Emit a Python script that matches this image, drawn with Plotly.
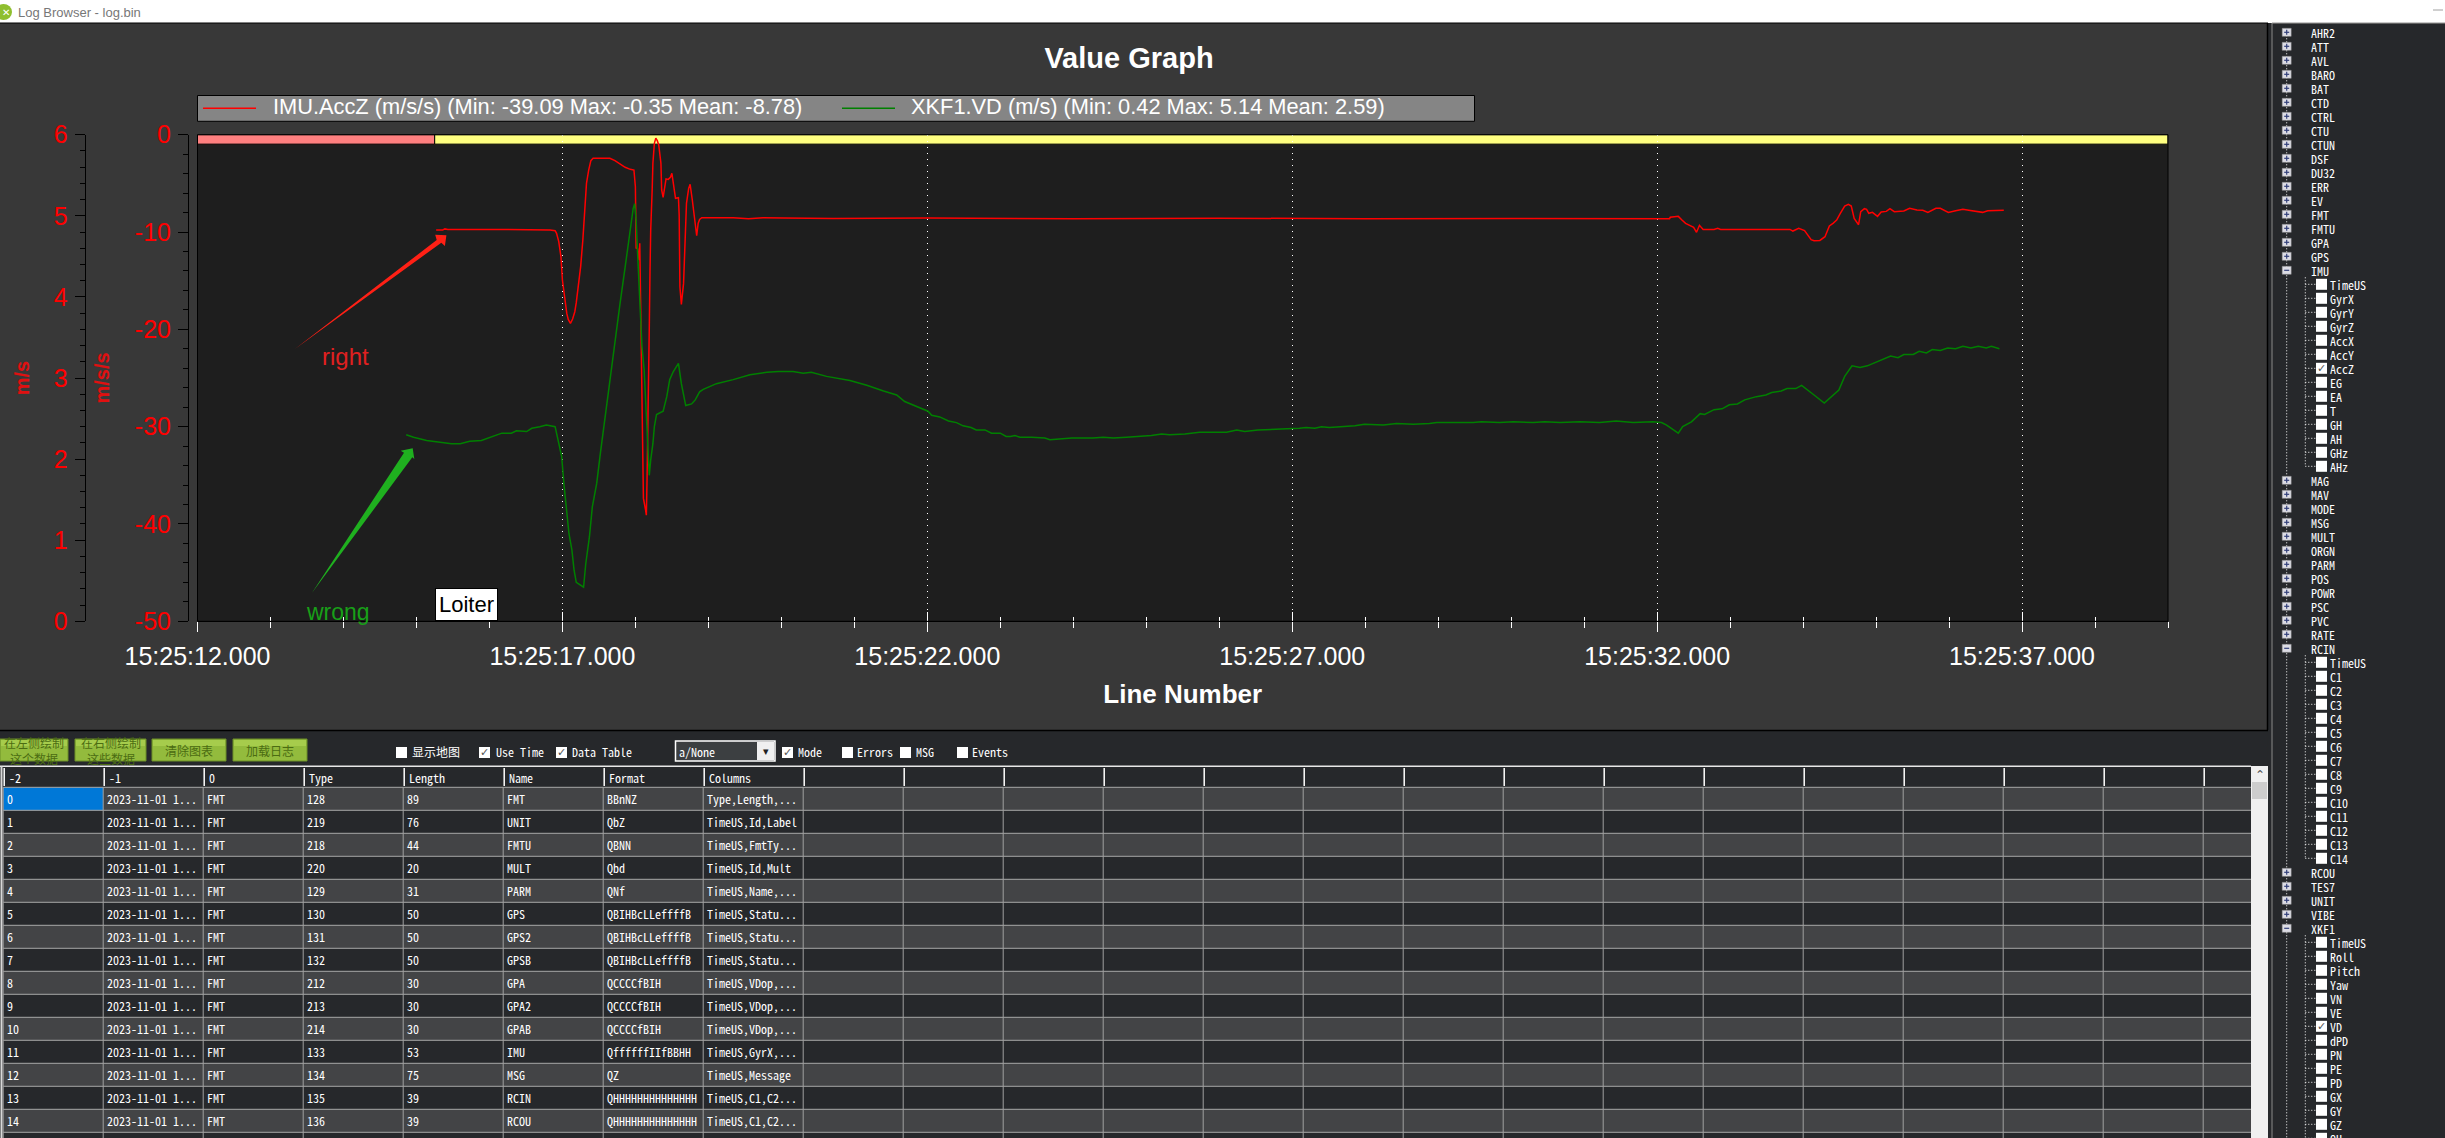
import plotly.graph_objects as go

# ---------- chart data ----------
acc_t = [15.27,15.33,15.36,15.39,15.43,16.14,16.58,16.59,16.61,16.81,16.83,16.90,16.92,16.95,16.98,17.00,17.03,17.06,17.08,17.11,17.14,17.17,17.19,17.22,17.25,17.28,17.30,17.33,17.36,17.39,17.42,17.65,17.72,17.79,17.86,17.93,17.98,18.00,18.01,18.03,18.04,18.05,18.06,18.07,18.09,18.10,18.11,18.14,18.15,18.16,18.17,18.19,18.20,18.21,18.23,18.24,18.26,18.28,18.30,18.32,18.35,18.36,18.38,18.40,18.42,18.45,18.48,18.50,18.52,18.55,18.59,18.60,18.61,18.63,18.66,18.68,18.70,18.73,18.75,18.78,18.81,18.84,18.86,18.88,18.91,19.07,19.13,19.34,19.55,19.75,20.03,20.35,20.71,22,24,26,28,30,31.21,32.17,32.18,32.29,32.34,32.39,32.50,32.54,32.58,32.63,32.78,32.83,32.87,33.82,33.86,33.94,34.02,34.07,34.11,34.15,34.23,34.30,34.36,34.41,34.46,34.51,34.57,34.62,34.66,34.70,34.76,34.79,34.84,34.87,34.90,34.95,35.02,35.07,35.14,35.19,35.25,35.38,35.46,35.56,35.64,35.71,35.82,35.88,35.99,36.09,36.19,36.27,36.37,36.46,36.53,36.75]
acc_v = [-9.78,-9.74,-9.78,-9.68,-9.75,-9.73,-9.73,-9.79,-9.73,-9.73,-9.79,-9.86,-10.14,-10.99,-12.54,-14.93,-16.99,-18.36,-18.98,-19.39,-18.94,-18.19,-17.26,-15.62,-13.56,-10.82,-8.08,-5.0,-3.63,-2.67,-2.43,-2.43,-2.67,-3.01,-3.35,-3.56,-3.63,-5.34,-11.64,-11.71,-12.88,-12.88,-11.16,-15.62,-24.18,-32.75,-37.37,-38.57,-39.09,-35.32,-27.61,-20.07,-14.08,-9.8,-5.68,-2.94,-0.89,-0.35,-0.61,-1.06,-2.94,-5.68,-6.44,-5.34,-4.55,-4.59,-4.38,-3.97,-5.17,-6.54,-6.47,-8.25,-15.62,-17.43,-15.28,-10.99,-7.05,-5.51,-5.1,-6.71,-8.77,-10.38,-9.11,-8.7,-8.53,-8.53,-8.6,-8.53,-8.63,-8.53,-8.56,-8.6,-8.6,-8.55,-8.63,-8.58,-8.63,-8.6,-8.63,-8.63,-8.49,-8.39,-8.77,-9.11,-9.52,-10.03,-9.31,-9.73,-9.73,-9.62,-9.73,-9.73,-9.9,-9.62,-9.86,-10.31,-10.79,-10.89,-10.86,-10.48,-9.38,-9.11,-8.77,-8.08,-7.33,-7.16,-7.33,-8.6,-9.25,-7.91,-7.6,-7.67,-8.08,-7.98,-8.39,-7.94,-7.88,-7.6,-7.91,-7.84,-7.57,-7.74,-7.77,-7.98,-7.57,-7.57,-7.98,-7.81,-7.67,-7.77,-7.84,-7.98,-7.81,-7.77]
vel_t = [14.86,14.96,15.14,15.28,15.41,15.48,15.60,15.73,15.89,15.98,16.17,16.30,16.37,16.51,16.58,16.69,16.78,16.90,16.94,16.99,17.02,17.06,17.09,17.13,17.16,17.19,17.29,17.32,17.37,17.41,17.47,17.52,17.58,17.65,17.72,17.79,17.86,17.93,17.97,17.99,18.01,18.03,18.05,18.07,18.09,18.12,18.14,18.16,18.18,18.19,18.21,18.24,18.26,18.29,18.38,18.43,18.47,18.52,18.59,18.63,18.69,18.77,18.82,18.88,18.93,19.11,19.34,19.57,19.80,19.96,20.16,20.30,20.41,20.62,20.94,21.17,21.40,21.44,21.58,21.69,21.79,21.92,22.01,22.06,22.17,22.29,22.40,22.49,22.60,22.67,22.79,22.88,23.00,23.08,23.14,23.20,23.27,23.43,23.54,23.61,23.68,23.84,23.98,24.13,24.27,24.41,24.55,24.73,24.91,25.07,25.21,25.32,25.53,25.73,25.94,26.10,26.24,26.35,26.53,26.71,26.85,27.10,27.19,27.31,27.40,27.51,27.72,27.86,27.99,28.25,28.43,28.66,28.88,28.98,29.25,29.48,29.59,29.84,30.03,30.30,30.46,30.67,30.94,31.21,31.44,31.67,31.94,32.06,32.13,32.29,32.35,32.47,32.59,32.65,32.78,32.89,32.99,33.10,33.20,33.36,33.49,33.57,33.70,33.78,33.90,33.98,34.15,34.29,34.49,34.57,34.67,34.78,34.88,35.01,35.20,35.30,35.38,35.51,35.59,35.69,35.77,35.88,35.98,36.09,36.19,36.30,36.40,36.51,36.58,36.69]
vel_v = [2.3,2.27,2.23,2.21,2.2,2.19,2.19,2.22,2.23,2.26,2.32,2.32,2.35,2.34,2.38,2.4,2.42,2.4,2.24,2.03,1.7,1.37,1.08,0.88,0.63,0.48,0.42,0.71,1.04,1.41,1.7,2.07,2.48,3.02,3.43,3.92,4.37,4.82,5.09,5.15,4.95,4.54,4.17,3.76,3.39,3.1,2.69,2.24,1.95,1.8,1.99,2.19,2.4,2.55,2.59,2.77,2.98,3.08,3.18,2.93,2.66,2.68,2.73,2.83,2.86,2.93,2.98,3.04,3.07,3.08,3.08,3.06,3.07,3.02,2.97,2.91,2.84,2.83,2.79,2.71,2.67,2.62,2.59,2.54,2.52,2.47,2.45,2.41,2.39,2.36,2.36,2.32,2.32,2.28,2.28,2.29,2.27,2.27,2.26,2.26,2.24,2.25,2.26,2.26,2.26,2.27,2.26,2.27,2.28,2.29,2.31,2.3,2.31,2.33,2.33,2.33,2.36,2.34,2.36,2.37,2.37,2.38,2.39,2.38,2.4,2.39,2.4,2.41,2.43,2.42,2.44,2.43,2.44,2.45,2.45,2.45,2.46,2.45,2.46,2.45,2.46,2.45,2.46,2.45,2.47,2.45,2.46,2.45,2.42,2.32,2.4,2.46,2.56,2.55,2.61,2.62,2.67,2.68,2.73,2.77,2.79,2.82,2.84,2.87,2.87,2.91,2.79,2.69,2.85,3.02,3.15,3.13,3.15,3.2,3.27,3.25,3.29,3.29,3.33,3.31,3.35,3.34,3.37,3.36,3.39,3.37,3.39,3.37,3.39,3.36]
acc_name = "IMU.AccZ (m/s/s) (Min: -39.09 Max: -0.35 Mean: -8.78)"
vel_name = "XKF1.VD (m/s) (Min: 0.42 Max: 5.14 Mean: 2.59)"
time_ticks = [12, 17, 22, 27, 32, 37]
time_labels = ["15:25:12.000","15:25:17.000","15:25:22.000","15:25:27.000","15:25:32.000","15:25:37.000"]
acc_ticks = [0,-10,-20,-30,-40,-50]
acc_labels = ["0","-10","-20","-30","-40","-50"]
vel_ticks = [0,1,2,3,4,5,6]
mode_edges = [12, 15.25, 39]
mode_colors = ["#ff8080", "#ffff80"]
mode_label = "Loiter"

# ---------- table & tree content ----------
tbl_header = ["-2","-1","0","Type","Length","Name","Format","Columns"]
tbl_type = [128,219,218,220,129,130,131,132,212,213,214,133,134,135,136]
tbl_length = [89,76,44,20,31,50,50,50,30,30,30,53,75,39,39]
tbl_name = ["FMT","UNIT","FMTU","MULT","PARM","GPS","GPS2","GPSB","GPA","GPA2","GPAB","IMU","MSG","RCIN","RCOU"]
tbl_format = ["BBnNZ","QbZ","QBNN","Qbd","QNf","QBIHBcLLeffffB","QBIHBcLLeffffB","QBIHBcLLeffffB","QCCCCfBIH","QCCCCfBIH","QCCCCfBIH","QffffffIIfBBHH","QZ","QHHHHHHHHHHHHHH","QHHHHHHHHHHHHHH"]
tbl_columns = ["Type,Length,...","TimeUS,Id,Label","TimeUS,FmtTy...","TimeUS,Id,Mult","TimeUS,Name,...","TimeUS,Statu...","TimeUS,Statu...","TimeUS,Statu...","TimeUS,VDop,...","TimeUS,VDop,...","TimeUS,VDop,...","TimeUS,GyrX,...","TimeUS,Message","TimeUS,C1,C2...","TimeUS,C1,C2..."]
tree_top = ["AHR2","ATT","AVL","BARO","BAT","CTD","CTRL","CTU","CTUN","DSF","DU32","ERR","EV","FMT","FMTU","GPA","GPS","IMU","MAG","MAV","MODE","MSG","MULT","ORGN","PARM","POS","POWR","PSC","PVC","RATE","RCIN","RCOU","TES7","UNIT","VIBE","XKF1"]
tree_children = {
    "IMU": ["TimeUS","GyrX","GyrY","GyrZ","AccX","AccY","AccZ","EG","EA","T","GH","AH","GHz","AHz"],
    "RCIN": ["TimeUS","C1","C2","C3","C4","C5","C6","C7","C8","C9","C10","C11","C12","C13","C14"],
    "XKF1": ["TimeUS","Roll","Pitch","Yaw","VN","VE","VD","dPD","PN","PE","PD","GX","GY","GZ","OH"],
}
tree_checked = {("IMU","AccZ"), ("XKF1","VD")}

# ---------- helpers ----------
W, H = 2445, 1138
PANEL, DARK, PLOT = "#383838", "#26282b", "#1e1e1e"
MONO = "Noto Sans Mono CJK SC, Liberation Mono, monospace"
CJK = "Noto Sans CJK SC"
shapes, notes = [], []
fx = lambda x: x / W
fy = lambda y: 1 - y / H

def rect(x0, y0, x1, y1, fill=None, line=None, width=1, layer="below"):
    shapes.append(dict(type="rect", xref="paper", yref="paper", x0=fx(x0), x1=fx(x1), y0=fy(y0), y1=fy(y1),
                       fillcolor=fill or "rgba(0,0,0,0)", line=dict(color=line or "rgba(0,0,0,0)", width=width if line else 0), layer=layer))

def seg(x0, y0, x1, y1, color, width=1, dash="solid", layer="below"):
    shapes.append(dict(type="line", xref="paper", yref="paper", x0=fx(x0), x1=fx(x1), y0=fy(y0), y1=fy(y1),
                       line=dict(color=color, width=width, dash=dash), layer=layer))

def poly(points, fill):
    path = "M " + " L ".join(f"{fx(x):.5f},{fy(y):.5f}" for x, y in points) + " Z"
    shapes.append(dict(type="path", xref="paper", yref="paper", path=path, fillcolor=fill, line=dict(width=0), layer="above"))

def text(x, y, s, size=12, color="white", family=MONO, anchor="left", **kw):
    notes.append(dict(xref="paper", yref="paper", x=fx(x), y=fy(y), text=s, showarrow=False, xanchor=anchor, yanchor="middle",
                      font=dict(size=size, color=color, family=family), borderpad=0, **kw))

# ---------- window chrome ----------
rect(0, 0, W, 23, "white")
seg(0, 23, 2268, 23, "black", 1)
seg(2272, 23, W, 23, "#909090", 1)
shapes.append(dict(type="circle", xref="paper", yref="paper", x0=fx(-5), x1=fx(12), y0=fy(20), y1=fy(4), fillcolor="#8fbf2f", line=dict(width=0), layer="below"))
text(0.5, 12, "✕", 10, "white", "DejaVu Sans")
text(17, 12, "Log Browser - log.bin", 13, "#777777", "Liberation Sans Narrow, Liberation Sans")
seg(2433, 10, 2443, 10, "#a0a0a0", 1)
rect(0, 730, 2272, H, DARK)
rect(2267.5, 23, 2272, H, DARK)
rect(2272, 24, W, H, DARK)
seg(0, 730.5, 2268, 730.5, "black", 1.5)
seg(2267.5, 23, 2267.5, 730, "black", 1.5)
seg(2272, 23, 2272, H, "#8a8a8a", 1)

# ---------- toolbar ----------
for x0, x1, s in [(0, 68, "在左侧绘制<br>这个数据"), (75, 146, "在右侧绘制<br>这些数据"), (152, 226, "清除图表"), (233, 307, "加载日志")]:
    rect(x0, 739, x1, 761, "#93bb3d", "#6d8f28")
    rect(x0 + 1, 740, x1 - 1, 746, "#a6cc4c")
    text((x0 + x1) / 2, 750, s, 12, "#4b6c12", CJK, "center")
for bx, tx, s, chk, fam in [(396, 411, "显示地图", False, CJK), (479, 495, "Use Time", True, MONO), (556, 571, "Data Table", True, MONO),
                            (782, 797, "Mode", True, MONO), (842, 856, "Errors", False, MONO), (900, 915, "MSG", False, MONO), (957, 971, "Events", False, MONO)]:
    rect(bx, 747, bx + 11, 758, "white")
    if chk:
        text(bx + 5.5, 752, "✓", 11, "#555555", "DejaVu Sans", "center")
    text(tx, 751, s, 12, "white", fam)
rect(675.5, 741, 775, 761, "#3c3f41", "white", 1.5)
rect(757, 742, 774, 760, "#f0f0f0")
text(678, 751, "a/None", 12)
text(765.5, 751, "▾", 11, "#222222", "DejaVu Sans", "center")

# ---------- log table ----------
COL0, COLW, ROW0, ROWH, TBL_R = 3.2, 100, 787.3, 23, 2251
rect(COL0, 767, TBL_R, 787, DARK)
r = 0
while ROW0 + r * ROWH < H:
    rect(COL0, ROW0 + r * ROWH, TBL_R, ROW0 + (r + 1) * ROWH, "#434446" if r % 2 == 0 else DARK)
    r += 1
rect(COL0, ROW0, COL0 + COLW, ROW0 + ROWH, "#0078d7")
for i in range(r + 1):
    seg(COL0, ROW0 + i * ROWH, TBL_R, ROW0 + i * ROWH, "#a8a8a8", 1)
seg(0, 766.3, 2251, 766.3, "#e8e8e8", 1.5)
c = 0
while COL0 + c * COLW < TBL_R:
    x = COL0 + c * COLW
    seg(x, ROW0, x, H, "#a0a0a0", 1)
    seg(x + 1, 768, x + 1, 786, "white", 1.5)
    c += 1
seg(1.5, 766, 1.5, H, "#d8d8d8", 2)
for j, s in enumerate(tbl_header):
    text(COL0 + j * COLW + 5, 777, s, 12)
for i in range(len(tbl_type)):
    row = [str(i), "2023-11-01 1...", "FMT", str(tbl_type[i]), str(tbl_length[i]), tbl_name[i], tbl_format[i], tbl_columns[i]]
    for j, s in enumerate(row):
        text(COL0 + j * COLW + 2.5, ROW0 + (i + 0.5) * ROWH, s, 12)
# scrollbar
rect(2251, 766, 2268, H, "#f0f0f0", layer="above")
rect(2252, 782, 2267, 799, "#cdcdcd", layer="above")
text(2259.5, 775, "⌃", 12, "#555555", "DejaVu Sans", "center")

# ---------- message tree ----------
TREE_Y0, TREE_DY = 32.3, 14
EXP_X, CHILD_X, LABEL_X, BOX_X, CLABEL_X = 2286.7, 2305.3, 2310, 2316, 2329
y_idx = 0
seg(EXP_X, TREE_Y0, EXP_X, H, "white", 1, "1px,2px")
for name in tree_top:
    y = TREE_Y0 + y_idx * TREE_DY
    rect(EXP_X - 4.5, y - 4, EXP_X + 4.5, y + 4, "#dcdce4", "#8a8a8a", 0.5)
    seg(EXP_X - 2.5, y, EXP_X + 2.5, y, "#33407a", 1.2)
    kids = tree_children.get(name)
    if not kids:
        seg(EXP_X, y - 2.5, EXP_X, y + 2.5, "#33407a", 1.2)
    text(LABEL_X, y, name, 12)
    y_idx += 1
    if kids:
        last = TREE_Y0 + (y_idx + len(kids) - 1) * TREE_DY
        seg(CHILD_X, y + 7, CHILD_X, last, "white", 1, "1px,2px")
        for k in kids:
            cy = TREE_Y0 + y_idx * TREE_DY
            seg(CHILD_X, cy, BOX_X, cy, "white", 1, "1px,2px")
            rect(BOX_X, cy - 5.5, BOX_X + 11, cy + 5.5, "white")
            if (name, k) in tree_checked:
                text(BOX_X + 5.5, cy, "✓", 11, "#555555", "DejaVu Sans", "center")
            text(CLABEL_X, cy, k, 12)
            y_idx += 1

# ---------- hand-drawn overlays ----------
poly([(294.9, 349), (436.7, 240), (435.2, 234.7), (446.4, 235.3), (444.9, 246), (441.3, 242.7)], "#ff2015")
poly([(311.7, 593.3), (404, 452.7), (400.7, 450.7), (412.7, 448.3), (414.3, 459), (412.3, 457.3)], "#1fb01f")
text(345.5, 356.5, "right", 24, "#e02020", "Liberation Sans", "center")
text(337.5, 612, "wrong", 23, "#18a018", "Liberation Sans", "center")

# ---------- legend box (slim bar, fixed height) ----------
LEG_Y = 108.3
rect(197.5, 95.5, 1474.5, 121.3, "#858585", "black", 1)
seg(203, LEG_Y, 256, LEG_Y, "#ff0000", 1.5)
seg(842, LEG_Y, 895, LEG_Y, "#008000", 1.5)
text(272, LEG_Y - 1.5, acc_name, 21.8, "white", "Liberation Sans")
text(910, LEG_Y - 1.5, vel_name, 21.8, "white", "Liberation Sans")

# ---------- flight-mode bar ----------
for i, col in enumerate(mode_colors):
    shapes.append(dict(type="rect", xref="x", yref="y", x0=mode_edges[i], x1=mode_edges[i + 1], y0=-0.97, y1=0,
                       fillcolor=col, line=dict(color="black", width=1), layer="below"))
shapes.append(dict(type="rect", xref="x domain", yref="y domain", x0=0, x1=1, y0=0, y1=1, line=dict(color="black", width=1), layer="above"))
notes.append(dict(xref="x", yref="y", x=mode_edges[1], y=-50, text=mode_label, showarrow=False, xanchor="left", yanchor="bottom",
                  bgcolor="white", bordercolor="black", borderwidth=1, borderpad=3, font=dict(size=22, color="black", family="Liberation Sans")))

# ---------- figure ----------
L, R, T, B = 197.5, 2168, 134.7, 621.3
fig = go.Figure()
fig.add_trace(go.Scatter(x=acc_t, y=acc_v, name=acc_name, mode="lines", line=dict(color="#ff0000", width=1.5), yaxis="y", xaxis="x"))
fig.add_trace(go.Scatter(x=vel_t, y=vel_v, name=vel_name, mode="lines", line=dict(color="#008000", width=1.5), yaxis="y2", xaxis="x"))
fig.add_trace(go.Scatter(x=[None], y=[None], showlegend=False, hoverinfo="skip", xaxis="x2", yaxis="y"))
tickfont = dict(size=25, color="#ff0000", family="Liberation Sans")
fig.update_layout(
    template="none",
    width=W, height=H, margin=dict(l=0, r=0, t=0, b=0, pad=0), autosize=False,
    paper_bgcolor=PANEL, plot_bgcolor=PLOT, font=dict(family="Liberation Sans", color="white"),
    title=dict(text="<b>Value Graph</b>", x=1129 / W, y=fy(58), xanchor="center", yanchor="middle", font=dict(size=29, color="white", family="Liberation Sans")),
    showlegend=False,
    xaxis=dict(domain=[fx(L), fx(R)], range=[12, 39], anchor="y", automargin=False, tickmode="array", tickvals=time_ticks, ticktext=time_labels,
               ticks="outside", ticklen=10, tickcolor="white", tickwidth=1,
               tickfont=dict(size=25, color="white", family="Liberation Sans"), ticklabelstandoff=3,
               minor=dict(ticks="outside", ticklen=6, tickcolor="white", tickwidth=1, tickmode="linear", tick0=12, dtick=1),
               showline=True, linecolor="black", linewidth=1, showgrid=True, gridcolor="white", gridwidth=1, griddash="1px,5px", zeroline=False,
               title=dict(text="<b>Line Number</b>", font=dict(size=26, color="white", family="Liberation Sans"), standoff=15)),
    xaxis2=dict(domain=[fx(L), fx(R)], range=[12, 39], overlaying="x", anchor="y", side="bottom", automargin=False, tickmode="linear", tick0=12, dtick=5,
                ticks="inside", ticklen=9, tickcolor="white", tickwidth=1, showticklabels=False, showgrid=False, zeroline=False,
                minor=dict(ticks="inside", ticklen=4, tickcolor="white", tickwidth=1, tickmode="linear", tick0=12, dtick=1)),
    yaxis=dict(domain=[fy(B), fy(T)], range=[-50, 0], anchor="free", position=fx(188), side="left", automargin=False, tickmode="array", tickvals=acc_ticks, ticktext=acc_labels,
               ticks="outside", ticklen=10, tickcolor="black", tickwidth=1, tickfont=tickfont, ticklabelstandoff=2,
               minor=dict(ticks="outside", ticklen=5, tickcolor="black", tickwidth=1, tickmode="linear", tick0=0, dtick=2),
               showline=True, linecolor="black", linewidth=1, showgrid=False, zeroline=False,
               title=dict(text="<b>m/s/s</b>", font=dict(size=20, color="#e01010", family="Liberation Sans"), standoff=18)),
    yaxis2=dict(domain=[fy(B), fy(T)], range=[0, 6], anchor="free", overlaying="y", position=fx(84.7), side="left", automargin=False, tickmode="array", tickvals=vel_ticks,
                ticks="outside", ticklen=10, tickcolor="black", tickwidth=1, tickfont=tickfont, ticklabelstandoff=2,
                minor=dict(ticks="outside", ticklen=5, tickcolor="black", tickwidth=1, tickmode="linear", tick0=0, dtick=0.2),
                showline=True, linecolor="black", linewidth=1, showgrid=False, zeroline=False,
                title=dict(text="<b>m/s</b>", font=dict(size=20, color="#e01010", family="Liberation Sans"), standoff=17)),
    shapes=shapes, annotations=notes,
)
fig.write_html("out.html", config={"displayModeBar": False}, post_script="document.body.style.margin='0';document.documentElement.style.overflow='hidden';")
